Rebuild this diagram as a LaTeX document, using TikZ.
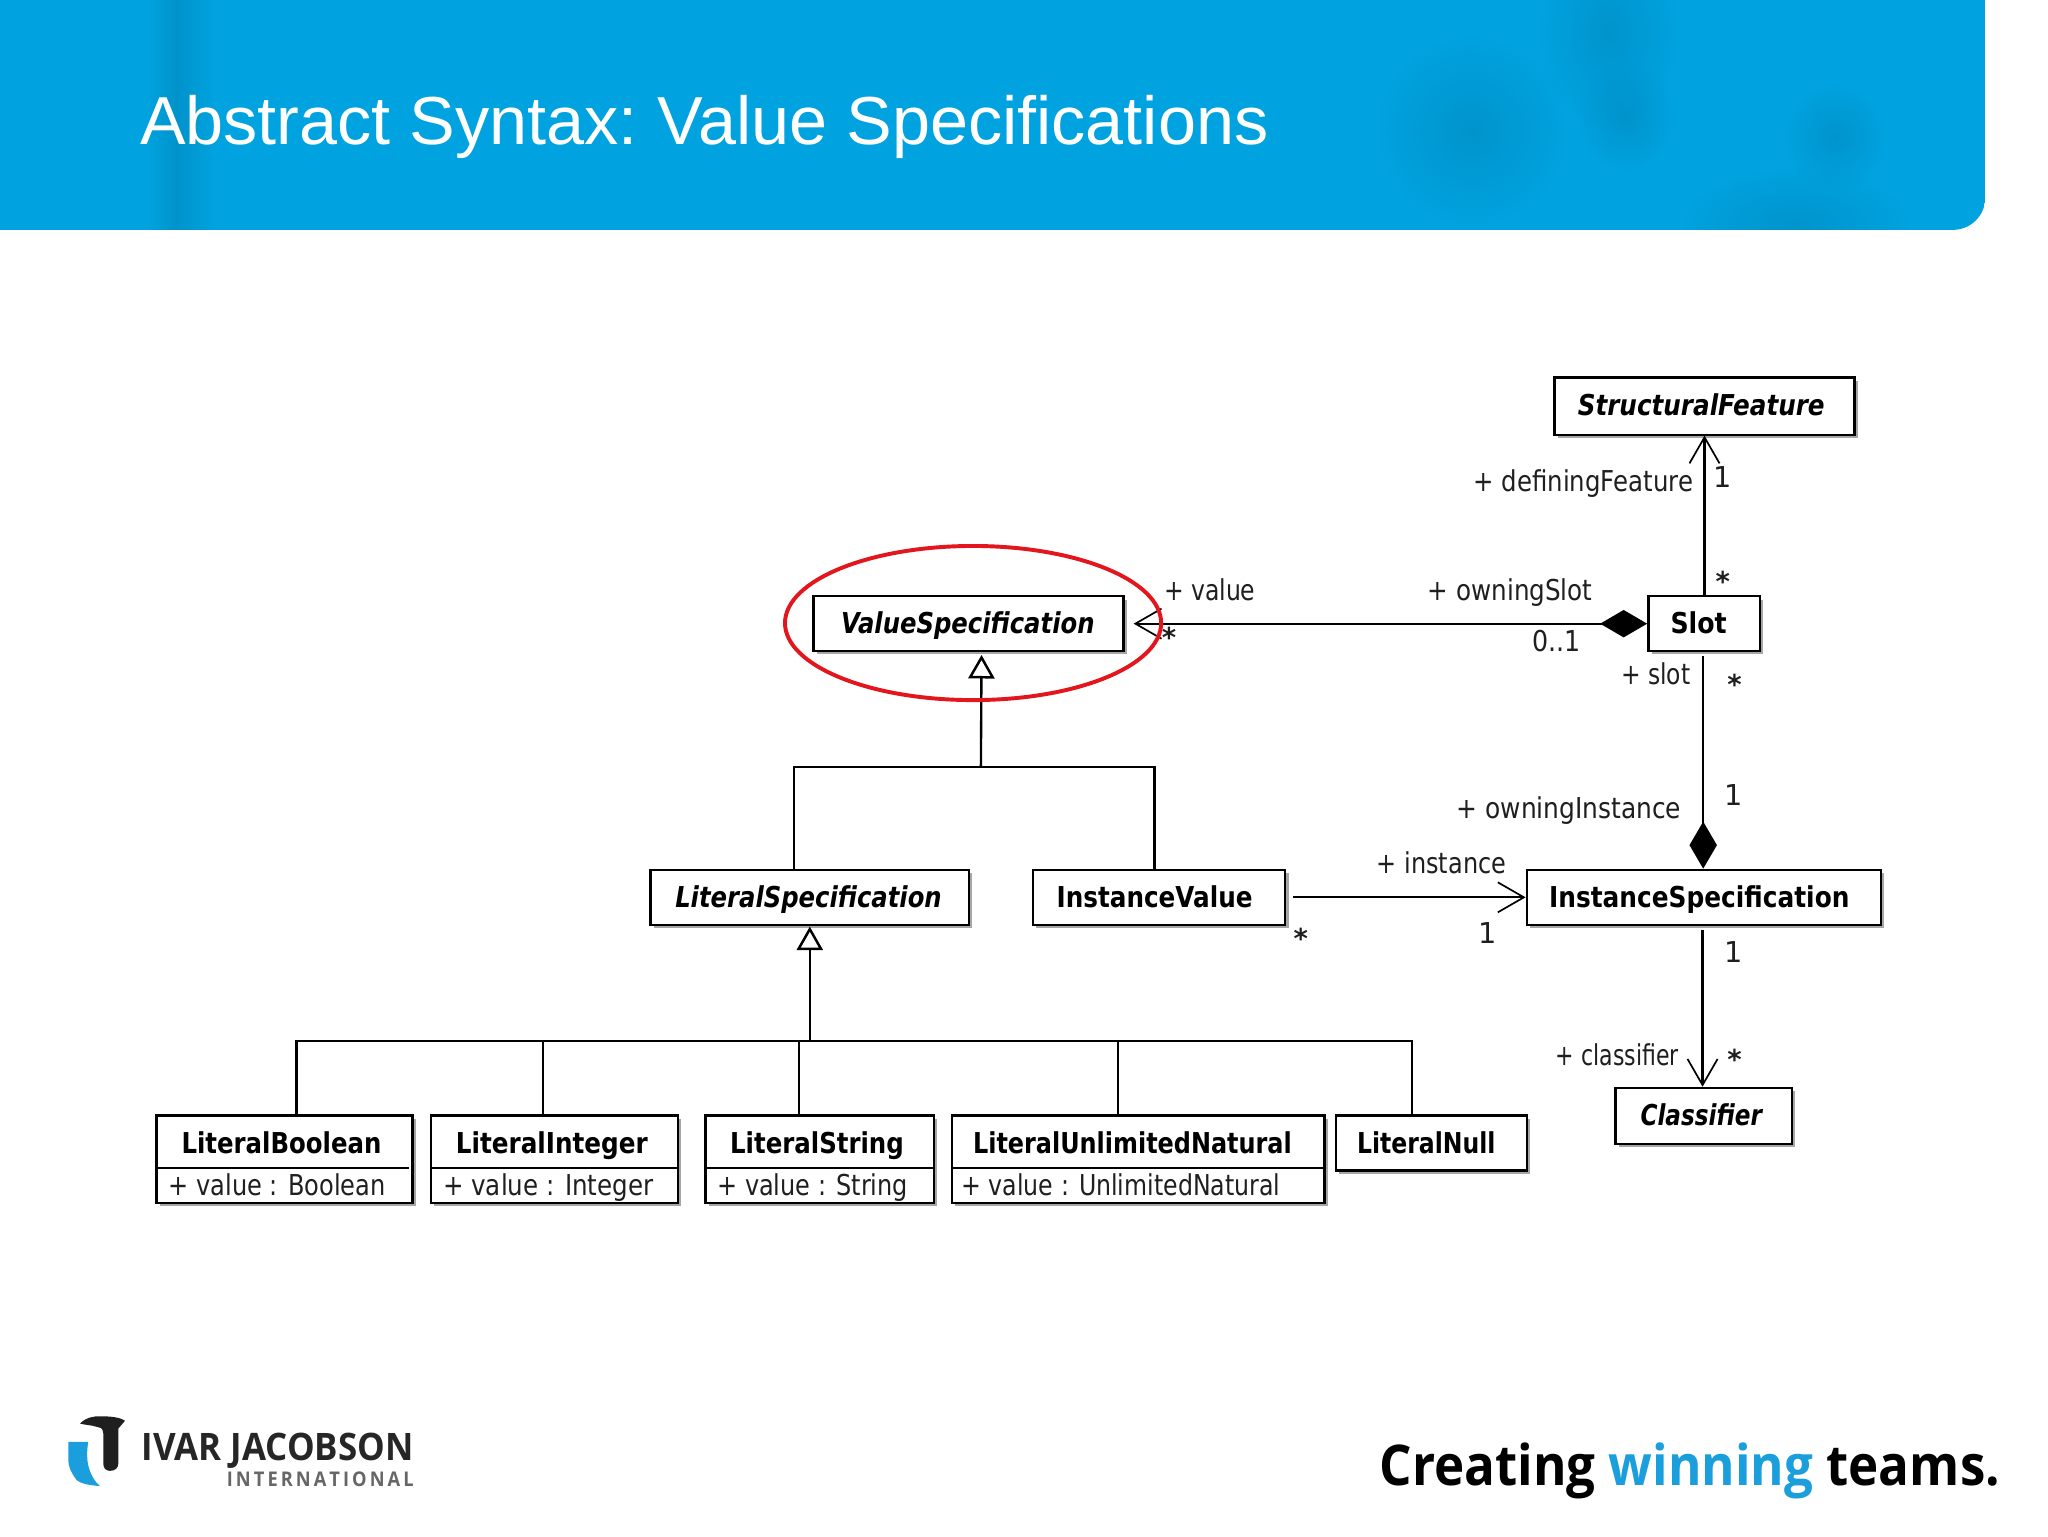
\documentclass[tikz,border=0pt]{standalone}
\usepackage{graphicx}
\usepackage{fontspec}
\setmainfont{DejaVu Sans}
\newfontfamily\titlefont{Liberation Sans}
\newfontfamily\brandfont{Open Sans}
\usetikzlibrary{arrows.meta,shadows,fadings}
\definecolor{band}{HTML}{00A3E0}
\definecolor{bandD}{HTML}{0088BC}
\definecolor{slogan}{HTML}{1A9FDC}
\definecolor{ring}{HTML}{E2161C}
\tikzfading[name=softblob,inner color=transparent!45,outer color=transparent!100]
\newcommand{\tw}[2]{\resizebox{#1pt}{\height}{#2}}
\newcommand{\bsz}{\fontsize{22}{26}\selectfont}
\tikzset{
  cls/.style={draw=black,line width=1.9pt,fill=white,inner sep=0pt,
    drop shadow={shadow xshift=2.5pt,shadow yshift=-2.5pt,fill=black!35,opacity=1}},
  bn/.style={inner sep=0pt,anchor=base,font=\bsz\bfseries,text=black},
  bi/.style={inner sep=0pt,anchor=base,font=\bsz\bfseries\itshape,text=black},
  lb/.style={inner sep=0pt,anchor=base,font=\fontsize{22}{26}\selectfont,text=black!88},
  ll/.style={lb,anchor=base west},
  mstar/.style={lb,font=\fontsize{21}{26}\selectfont\bfseries},
  conn/.style={draw=black,line width=1.8pt},
  opn/.style={conn,-{Straight Barb[length=20,width=23,line width=1.3pt]}},
  gen/.style={conn,-{Triangle[open,length=18,width=20,fill=white,line width=1.9pt]}},
  blob/.style={fill=bandD,path fading=softblob,draw=none}
}
\begin{document}
\begin{tikzpicture}[x=1pt,y=-1pt]
\useasboundingbox (0,0) rectangle (1568,1176);
\fill[white] (0,0) rectangle (1568,1176);
% header band
\begin{scope}
\clip (0,0) -- (1520,0) -- (1520,151) .. controls (1520,165) and (1509,176) .. (1495,176) -- (0,176) -- cycle;
\fill[band] (0,0) rectangle (1520,176);
\shade[left color=band,right color=bandD!60!band] (112,0) rectangle (135,176);
\shade[left color=bandD!60!band,right color=band] (135,0) rectangle (165,176);
\fill[blob] (1127,100) ellipse[x radius=75,y radius=75];
\fill[blob] (1232,25) ellipse[x radius=55,y radius=75];
\fill[blob] (1245,90) ellipse[x radius=38,y radius=42];
\fill[blob] (1405,105) ellipse[x radius=40,y radius=42];
\fill[blob] (1375,172) ellipse[x radius=90,y radius=45];
\end{scope}
\node[inner sep=0pt,anchor=base west,text=white,font=\titlefont\fontsize{52}{60}\selectfont] (title) at (107,111) {\tw{864}{Abstract Syntax:\hspace{-4pt} Value Specifications}};
% class boxes
\node[cls,minimum width=230,minimum height=44] (sf) at (1305,311) {};
\node[cls,minimum width=237,minimum height=42] (vs) at (741.5,477.5) {};
\node[cls,minimum width=85.5,minimum height=42] (slot) at (1304.8,477.5) {};
\node[cls,minimum width=244,minimum height=42] (ls) at (620,687) {};
\node[cls,minimum width=193,minimum height=42] (iv) at (887.5,687) {};
\node[cls,minimum width=271,minimum height=42] (is) at (1304.5,687) {};
\node[cls,minimum width=135,minimum height=43] (cf) at (1304.5,854.5) {};
\node[cls,minimum width=196,minimum height=67] (lbo) at (218,887.5) {};
\node[cls,minimum width=189,minimum height=67] (lin) at (424.5,887.5) {};
\node[cls,minimum width=175,minimum height=67] (lst) at (627.5,887.5) {};
\node[cls,minimum width=285,minimum height=67] (lun) at (871.5,887.5) {};
\node[cls,minimum width=146,minimum height=42] (lnu) at (1096,875) {};
% compartment separators
\coordinate (sepy) at (0,894);
\draw[line width=1.7pt] (lbo.west |- sepy) -- (313,894);
\draw[line width=1.7pt] (lin.west |- sepy) -- (lin.east |- sepy);
\draw[line width=1.7pt] (lst.west |- sepy) -- (lst.east |- sepy);
\draw[line width=1.7pt] (lun.west |- sepy) -- (lun.east |- sepy);
% class names
\node[bi] (tsf) at (1302.5,318) {\tw{189}{StructuralFeature}};
\node[bi] (tvs) at (741,485) {\tw{194}{ValueSpecification}};
\node[bn] (tslot) at (1300.5,485) {\tw{43}{Slot}};
\node[bi] (tls) at (619,694.5) {\tw{204}{LiteralSpecification}};
\node[bn] (tiv) at (884,694.5) {\tw{150}{InstanceValue}};
\node[bn] (tis) at (1301,694.5) {\tw{230}{InstanceSpecification}};
\node[bi] (tcf) at (1302.5,862) {\tw{93}{Classifier}};
\node[bn] (tlbo) at (215.5,883) {\tw{153}{LiteralBoolean}};
\node[bn] (tlin) at (422.5,883) {\tw{147}{LiteralInteger}};
\node[bn] (tlst) at (625.5,883) {\tw{133}{LiteralString}};
\node[bn] (tlun) at (867,883) {\tw{244}{LiteralUnlimitedNatural}};
\node[bn] (tlnu) at (1092,883) {\tw{106}{LiteralNull}};
% attributes
\node[ll] (alb) at (129,915) {\tw{166}{+ value : Boolean}};
\node[ll] (ali) at (339,915) {\tw{161}{+ value : Integer}};
\node[ll] (als) at (549,915) {\tw{146}{+ value : String}};
\node[ll] (alu) at (736,915) {\tw{244}{+ value : UnlimitedNatural}};
% connectors
\draw[opn,shorten >=-0.5pt] (1305,0 |- slot.north) -- (1305,0 |- sf.south);
\draw[conn,{Diamond[length=36,width=21,fill=black]}-{Straight Barb[length=20,width=23,line width=1.3pt]},shorten >=7pt] (slot.west) -- (vs.east);
\draw[conn,-{Diamond[length=36,width=21,fill=black]},shorten <=3pt] (1304,0 |- slot.south) -- (1304,0 |- is.north);
\draw[opn,shorten <=5pt] (iv.east) -- (is.west);
\draw[opn,shorten <=3pt] (1303.5,0 |- is.south) -- (1303.5,0 |- cf.north);
\coordinate (j1) at (751,587);
\coordinate (j2) at (620,797);
\draw[gen,shorten >=2pt] (j1) -- (751.5,0 |- vs.south);
\draw[conn] (608,0 |- ls.north) |- (j1) -| (884,0 |- iv.north);
\draw[gen,shorten >=0.5pt] (j2) -- (620,0 |- ls.south);
\draw[conn] (227,0 |- lbo.north) |- (j2) -- (1081,0 |- j2) -- (1081,0 |- lnu.north);
\draw[conn,line width=1.5pt] (415.5,0 |- lin.north) -- (415.5,0 |- j2);
\draw[conn,line width=1.5pt] (611.5,0 |- lst.north) -- (611.5,0 |- j2);
\draw[conn,line width=1.5pt] (856,0 |- lun.north) -- (856,0 |- j2);
% role and multiplicity labels
\node[ll] (r1) at (1128,376) {\tw{168}{+ definingFeature}};
\node[lb] (m1) at (1319,373) {1};
\node[mstar] (m2) at (1319,453) {*};
\node[ll] (r2) at (1093,460) {\tw{126}{+ owningSlot}};
\node[ll] (m3) at (1173,499) {\tw{37}{0..1}};
\node[ll] (r3) at (891,460) {\tw{70}{+ value}};
\node[mstar] (m4) at (895,496) {*};
\node[ll] (r4) at (1241,524) {\tw{53}{+ slot}};
\node[mstar] (m5) at (1328,532) {*};
\node[ll] (r5) at (1115,627) {\tw{172}{+ owningInstance}};
\node[lb] (m6) at (1327,617) {1};
\node[ll] (r6) at (1054,669) {\tw{99}{+ instance}};
\node[mstar] (m7) at (996,726) {*};
\node[lb] (m8) at (1139,722) {1};
\node[lb] (m9) at (1327,737) {1};
\node[ll] (r7) at (1191,816) {\tw{94}{+ classifier}};
\node[mstar] (m10) at (1328,819) {*};
% highlight ellipse
\draw[ring,line width=3pt] (745,477) ellipse[x radius=144,y radius=59];
% footer: logo
\fill[black!88] (61.3,1089.9) .. controls (66,1085) and (72,1084.3) .. (76.6,1084.3) .. controls (84,1084.3) and (92,1085) .. (95.7,1087.8) -- (90.6,1093.7) -- (90.6,1120.5) .. controls (90.6,1124) and (88,1126.1) .. (84.2,1126.1) .. controls (81,1126.1) and (79.1,1124) .. (79.1,1120.5) -- (79.1,1097.5) .. controls (79,1093) and (76,1092.4) .. (74,1092.4) .. controls (70,1091) and (65,1091) .. (61.3,1089.9) -- cycle;
\fill[slogan] (52.3,1103.9) -- (67.6,1103.9) .. controls (66,1112) and (67,1120) .. (67.6,1122) .. controls (69,1128) and (72,1134) .. (76.6,1137.8) .. controls (68,1137) and (62,1136) .. (58.7,1133.2) .. controls (54,1127) and (52.3,1122) .. (52.3,1118) -- cycle;
\node[inner sep=0pt,anchor=base west,text=black!85,font=\brandfont\fontsize{29}{32}\selectfont\bfseries] (logo1) at (108.5,1118) {\tw{208}{IVAR JACOBSON}};
\node[inner sep=0pt,anchor=base west,text=black!60,font=\brandfont\fontsize{15.5}{18}\selectfont\bfseries] (logo2) at (173.5,1138) {\tw{143}{I\,N\,T\,E\,R\,N\,A\,T\,I\,O\,N\,A\,L}};
% footer: slogan
\node[inner sep=0pt,anchor=base west,font=\brandfont\fontsize{43}{50}\selectfont\bfseries] (slog) at (1056,1137) {\tw{475}{Creating \textcolor{slogan}{winning} teams.}};
\end{tikzpicture}
\end{document}
